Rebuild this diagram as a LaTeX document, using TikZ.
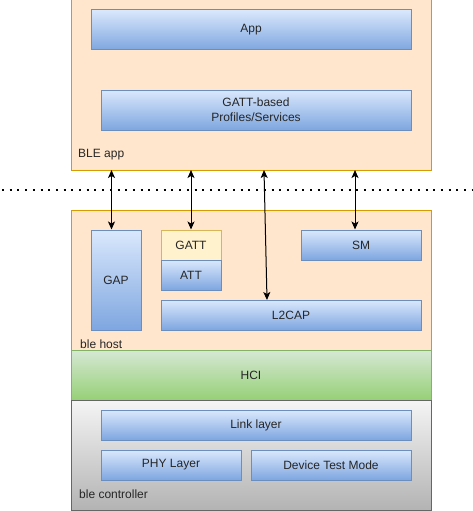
\documentclass[tikz,border=0pt]{standalone}
\usepackage{fontspec}
\setmainfont{Liberation Sans}
\usetikzlibrary{arrows.meta}
\definecolor{blueA}{HTML}{DAE8FC}
\definecolor{blueB}{HTML}{7EA6E0}
\definecolor{blueL}{HTML}{6C8EBF}
\definecolor{orgF}{HTML}{FFE6CC}
\definecolor{orgL}{HTML}{D79B00}
\definecolor{grnA}{HTML}{D5E8D4}
\definecolor{grnB}{HTML}{97D077}
\definecolor{grnL}{HTML}{82B366}
\definecolor{gryA}{HTML}{F5F5F5}
\definecolor{gryB}{HTML}{B3B3B3}
\definecolor{gryL}{HTML}{666666}
\definecolor{ylwF}{HTML}{FFF2CC}
\definecolor{ylwL}{HTML}{D6B656}
\tikzset{
	layer/.style={draw=blueL,line width=1pt,top color=blueA,bottom color=blueB,
		minimum width=#1,inner sep=0pt},
	part/.style={draw=orgL,fill=orgF,line width=1pt,minimum width=360pt,inner sep=0pt},
	tag/.style={anchor=west,inner sep=0pt},
	link/.style={{Stealth[length=8pt,width=7pt,inset=2pt]}-{Stealth[length=8pt,width=7pt,inset=2pt]},line width=1pt}
}
\begin{document}
\begin{tikzpicture}[x=1pt,y=-1pt,font=\fontsize{12}{15}\selectfont,text=black!85]
	\useasboundingbox (0,0) rectangle (473,511);
	% ble app
	\node[part,minimum height=170pt] (bleapp) at (251,85) {};
	\node[layer=320pt,minimum height=40pt] (app) at (251,30) {App};
	\node[layer=310pt,minimum height=40pt,align=center] (profiles) at (256,110) {GATT-based\\Profiles/Services};
	\node[tag] (applabel) at (78,155) {BLE app};
	% separator
	\draw[line width=2pt,dash pattern=on 2pt off 5.7pt] (2,190) -- (473,190);
	% ble host
	\node[part,minimum height=140pt] (host) at (251,280) {};
	\node[layer=50pt,minimum height=100pt] (gap) at (116,280) {GAP};
	\node[draw=ylwL,fill=ylwF,line width=1pt,minimum width=60pt,minimum height=30pt,inner sep=0pt] (gatt) at (191,245) {GATT};
	\node[layer=60pt,minimum height=30pt] (att) at (191,275) {ATT};
	\node[layer=120pt,minimum height=30pt] (sm) at (361,245) {SM};
	\node[layer=260pt,minimum height=30pt] (l2cap) at (291,315) {L2CAP};
	\node[tag] (hostlabel) at (80,344) {ble host};
	% hci
	\node[draw=grnL,line width=1pt,top color=grnA,bottom color=grnB,minimum width=360pt,minimum height=50pt,inner sep=0pt] (hci) at (251,375) {HCI};
	% ble controller
	\node[draw=gryL,line width=1pt,top color=gryA,bottom color=gryB,minimum width=360pt,minimum height=110pt,inner sep=0pt] (ctrl) at (251,455) {};
	\node[layer=310pt,minimum height=30pt] (ll) at (256,425) {Link layer};
	\node[layer=140pt,minimum height=30pt] (phy) at (171,465) {PHY Layer};
	\node[layer=160pt,minimum height=30pt] (dtm) at (331,465) {Device Test Mode};
	\node[tag] (ctrllabel) at (79,494) {ble controller};
	% connectors
	\coordinate (c1) at (111.5,170);
	\coordinate (c2) at (191,170);
	\coordinate (c3) at (264,170);
	\coordinate (c4) at (355,170);
	\coordinate (d3) at (267,300);
	\draw[link] (c1) -- (c1 |- gap.north);
	\draw[link] (c2) -- (gatt.north);
	\draw[link] (c3) -- (d3);
	\draw[link] (c4) -- (c4 |- sm.north);
\end{tikzpicture}
\end{document}
